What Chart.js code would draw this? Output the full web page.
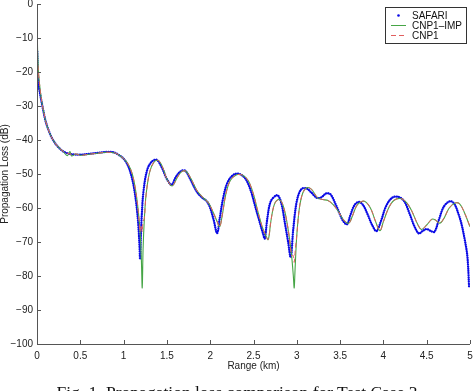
<!DOCTYPE html>
<html>
<head>
<meta charset="utf-8">
<script src="https://cdn.jsdelivr.net/npm/chart.js@4.4.1/dist/chart.umd.min.js"></script>
<style>
  html, body { margin: 0; padding: 0; background: #fff; overflow: hidden; }
  #wrap { position: relative; width: 474px; height: 391px; }
  canvas { display: block; }
  #caption {
    position: absolute; left: 0; width: 474px; top: 382px;
    text-align: center; font-family: "Liberation Serif", "DejaVu Serif", serif;
    font-size: 17.5px; color: #111; white-space: nowrap;
  }
</style>
</head>
<body>
<div id="wrap">
  <canvas id="lossChart" width="474" height="391"></canvas>
  <div id="caption">Fig. 1. Propagation loss comparison for Test Case 3</div>
</div>
<script>
// Values (range in km, loss in dB)
const safariRange = [0.003, 0.015, 0.04, 0.07, 0.1, 0.15, 0.2, 0.25, 0.3, 0.35, 0.4, 0.5, 0.6, 0.7, 0.8, 0.88, 0.94,
  1.0, 1.05, 1.09, 1.12, 1.15, 1.17, 1.185, 1.19, 1.2, 1.21, 1.23, 1.27, 1.32, 1.38, 1.44, 1.5, 1.555, 1.6, 1.66, 1.71,
  1.77, 1.84, 1.9, 1.96, 2.0, 2.04, 2.08, 2.11, 2.15, 2.2, 2.27, 2.34, 2.41, 2.47, 2.52, 2.57, 2.61, 2.63, 2.66, 2.7,
  2.77, 2.8, 2.83, 2.86, 2.9, 2.93, 2.96, 3.0, 3.05, 3.11, 3.17, 3.23, 3.28, 3.34, 3.39, 3.45, 3.5, 3.54, 3.58, 3.62,
  3.67, 3.72, 3.77, 3.82, 3.87, 3.92, 3.97, 4.03, 4.1, 4.17, 4.24, 4.3, 4.36, 4.41, 4.45, 4.5, 4.55, 4.59, 4.64, 4.7,
  4.77, 4.82, 4.87, 4.9, 4.94, 4.97, 4.99];
const safariLoss = [-14, -23, -27, -31, -34.5, -38.2, -40.6, -42.2, -43.3, -43.9, -44.2, -44.3, -44.1, -43.8, -43.5, -43.6, -44.3,
  -45.5, -47.5, -50.5, -54, -59.5, -65, -72, -75, -68, -62, -55, -49, -46.5, -45.8, -48, -51.5, -53.2, -51, -49.2, -49,
  -51.5, -55, -56.8, -58, -60, -63.5, -67.4, -63, -57, -52.5, -50.2, -50, -51.5, -55, -59.5, -64, -67.5, -69, -63, -58,
  -56.2, -57, -59.5, -64, -70, -74.5, -66, -58, -54.5, -54.2, -55.5, -57, -56.9, -55.7, -56, -59, -62, -64, -64.8, -62,
  -59, -58.2, -59.3, -62, -65, -66.8, -64, -59.5, -57, -56.7, -58, -61.5, -65.5, -67.5, -66.8, -66.2, -66.8, -67, -63.5, -59.5,
  -58, -58.8, -62, -64.5, -69.4, -74.3, -83.5];

const impRange = [0, 0.004, 0.01, 0.02, 0.04, 0.06, 0.08, 0.1, 0.15, 0.2, 0.25, 0.3, 0.35, 0.38, 0.4, 0.45, 0.5, 0.6, 0.7,
  0.8, 0.9, 0.95, 1.0, 1.05, 1.1, 1.14, 1.17, 1.19, 1.205, 1.215, 1.225, 1.24, 1.26, 1.3, 1.35, 1.4, 1.45, 1.5, 1.56, 1.62,
  1.67, 1.72, 1.78, 1.85, 1.92, 1.98, 2.03, 2.08, 2.11, 2.14, 2.18, 2.23, 2.3, 2.37, 2.44, 2.5, 2.55, 2.6, 2.64, 2.67, 2.7,
  2.74, 2.79, 2.83, 2.87, 2.91, 2.94, 2.96, 2.97, 2.98, 3.0, 3.03, 3.07, 3.12, 3.17, 3.24, 3.3, 3.36, 3.42, 3.48, 3.54, 3.6,
  3.64, 3.7, 3.78, 3.85, 3.91, 3.96, 4.0, 4.06, 4.12, 4.2, 4.27, 4.33, 4.39, 4.44, 4.5, 4.56, 4.6, 4.65, 4.7, 4.76, 4.83,
  4.88, 4.93, 5.0];
const impLoss = [0, -10, -16, -21, -26, -29.5, -32, -34.5, -38.2, -40.6, -42.2, -43.3, -44.6, -43.4, -44.7, -44.1, -44.5, -44.2, -43.9,
  -43.6, -43.8, -44.5, -45.5, -47, -50, -55, -61, -67, -75, -83.5, -72, -63, -56, -49.5, -46.5, -46, -48, -51.5, -53.5, -51,
  -49.3, -49.2, -51.5, -55, -57, -58.5, -61, -64, -65.5, -62, -56, -52, -50.3, -50.3, -52, -56, -61, -65.5, -68, -69.3, -64,
  -59, -57.5, -58.5, -62, -68, -74, -80, -83.5, -78, -68, -60, -55.5, -54, -54.5, -57, -57.5, -57.8, -59, -61, -63.5, -64.5,
  -62.5, -59, -58, -60, -64, -66.7, -64, -60, -57.8, -57.2, -58.5, -61, -64.5, -66.3, -65, -63.3, -63.5, -64.5, -63, -60, -58.5,
  -58.8, -61, -65.5];

// CNP1 follows CNP1-IMP except at the start and in the deep nulls
const cnpRange = impRange.slice(2);
const cnpLoss = impLoss.slice(2).map((v, i) => {
  const r = cnpRange[i];
  if (r === 0.01) return -18;
  if (r === 1.205) return -65;
  if (r === 1.215) return -67;
  if (r === 1.225) return -64;
  if (r === 2.96) return -74;
  if (r === 2.97) return -76;
  if (r === 2.98) return -73;
  if (r === 0.35) return -43.9;
  if (r === 0.38) return -44.1;
  if (r === 0.4) return -44.2;
  return v;
});

const yTicks = [-100, -90, -80, -70, -60, -50, -40, -30, -20, -10, 0];
const xTicks = [0, 0.5, 1, 1.5, 2, 2.5, 3, 3.5, 4, 4.5, 5];

const pairs = (xs, ys) => xs.map((x, i) => ({ x: x, y: ys[i] }));

const FONT = '"Liberation Sans", Arial, Helvetica, sans-serif';
const AXIS_COLOR = '#555';

// MATLAB-style axes: left and bottom lines with ticks pointing inward
const matlabAxes = {
  id: 'matlabAxes',
  afterDatasetsDraw(chart) {
    const { ctx, chartArea: a, scales } = chart;
    ctx.save();
    ctx.strokeStyle = AXIS_COLOR;
    ctx.lineWidth = 1;
    ctx.beginPath();
    ctx.moveTo(a.left + 0.5, a.top);
    ctx.lineTo(a.left + 0.5, a.bottom + 0.5);
    ctx.lineTo(a.right, a.bottom + 0.5);
    xTicks.forEach(v => {
      const px = Math.round(scales.x.getPixelForValue(v)) + 0.5;
      ctx.moveTo(px, a.bottom);
      ctx.lineTo(px, a.bottom - 4);
    });
    yTicks.forEach(v => {
      const py = Math.round(scales.y.getPixelForValue(v)) + 0.5;
      ctx.moveTo(a.left, py);
      ctx.lineTo(a.left + 4, py);
    });
    ctx.stroke();
    ctx.restore();
  }
};

// Legend box in the upper right corner
const boxLegend = {
  id: 'boxLegend',
  afterDraw(chart) {
    const ctx = chart.ctx;
    const left = 385, top = 7, w = 81, h = 36;
    ctx.save();
    ctx.fillStyle = '#fff';
    ctx.fillRect(left, top, w, h);
    ctx.strokeStyle = '#333';
    ctx.lineWidth = 1;
    ctx.strokeRect(left + 0.5, top + 0.5, w, h);
    ctx.font = '10px ' + FONT;
    ctx.textBaseline = 'middle';
    const rows = [15.5, 25.5, 35.5];
    chart.data.datasets.forEach((d, i) => {
      const y = rows[i];
      if (i === 0) {
        ctx.fillStyle = d.borderColor;
        ctx.beginPath();
        ctx.arc(398.5, y, 1.3, 0, Math.PI * 2);
        ctx.fill();
      } else {
        ctx.strokeStyle = d.borderColor;
        ctx.lineWidth = 1;
        ctx.setLineDash(d.borderDash || []);
        ctx.beginPath();
        ctx.moveTo(391, y);
        ctx.lineTo(406, y);
        ctx.stroke();
        ctx.setLineDash([]);
      }
      ctx.fillStyle = '#111';
      ctx.fillText(d.label, 412, y + 0.5);
    });
    ctx.restore();
  }
};

const ctx = document.getElementById('lossChart').getContext('2d');
const chart = new Chart(ctx, {
  type: 'line',
  data: {
    datasets: [
      {
        label: 'SAFARI',
        data: pairs(safariRange, safariLoss),
        borderColor: 'rgb(10, 10, 230)',
        borderWidth: 2.3,
        borderDash: [0.1, 2.1],
        borderCapStyle: 'round',
        pointRadius: 0,
        tension: 0.35,
        order: 3
      },
      {
        label: 'CNP1\u2013IMP',
        data: pairs(impRange, impLoss),
        borderColor: 'rgb(70, 165, 70)',
        borderWidth: 1.1,
        pointRadius: 0,
        tension: 0.35,
        order: 2
      },
      {
        label: 'CNP1',
        data: pairs(cnpRange, cnpLoss),
        borderColor: 'rgb(225, 95, 95)',
        borderWidth: 1,
        borderDash: [5, 3],
        pointRadius: 0,
        tension: 0.35,
        order: 1
      }
    ]
  },
  options: {
    responsive: false,
    animation: false,
    devicePixelRatio: 1,
    layout: { padding: { top: 4, right: 4, left: 0, bottom: 0 } },
    plugins: { legend: { display: false }, tooltip: { enabled: false } },
    scales: {
      x: {
        type: 'linear',
        min: 0,
        max: 5,
        afterFit: s => { s.height = 47; s.paddingLeft = 0; s.paddingRight = 0; },
        afterBuildTicks: s => { s.ticks = xTicks.map(v => ({ value: v })); },
        grid: { display: false, drawTicks: false },
        border: { display: false },
        ticks: {
          padding: 6,
          color: '#222',
          font: { family: FONT, size: 10 },
          maxRotation: 0,
          autoSkip: false,
          callback: v => String(v)
        },
        title: {
          display: true,
          text: 'Range (km)',
          color: '#222',
          font: { family: FONT, size: 10 },
          padding: { top: 0, bottom: 19 }
        }
      },
      y: {
        min: -100,
        max: 0,
        afterFit: s => { s.width = 37; s.paddingTop = 0; s.paddingBottom = 0; },
        afterBuildTicks: s => { s.ticks = yTicks.map(v => ({ value: v })); },
        grid: { display: false, drawTicks: false },
        border: { display: false },
        ticks: {
          padding: 4,
          color: '#222',
          font: { family: FONT, size: 10 },
          autoSkip: false,
          callback: v => String(v).replace('-', '\u2212')
        },
        title: {
          display: true,
          text: 'Propagation Loss (dB)',
          color: '#222',
          font: { family: FONT, size: 10, lineHeight: 1 },
          padding: { top: 0, bottom: 0 }
        }
      }
    }
  },
  plugins: [matlabAxes, boxLegend]
});
</script>
</body>
</html>
